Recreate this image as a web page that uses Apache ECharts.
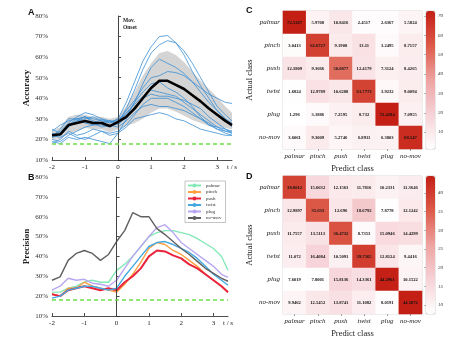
<!DOCTYPE html>
<html><head><meta charset="utf-8">
<script src="https://cdn.jsdelivr.net/npm/echarts@6/dist/echarts.min.js"></script>
<style>html,body{margin:0;padding:0;background:#fff}#c{width:474px;height:344px}</style>
</head><body><div id="c"></div>
<script>
// time axis (s) relative to movement onset
const T = [-2,-1.75,-1.5,-1.25,-1,-0.75,-0.5,-0.25,0,0.25,0.5,0.75,1,1.25,1.5,1.75,2,2.25,2.5,2.75,3,3.25,3.45];

// Panel A: decoding accuracy (%)
const accMean  = [22,22.5,27,28,29,28,28,26.5,28.5,31,35,40,45,48.5,48.5,46.5,44.5,41.5,38.5,35,32,29,27];
const accUpper = [24,26,31,32,32,31,31,30,31,36,43,51,57,62,63,61,57.5,53,48.5,44.5,40.5,36,33];
const accLower = [20,20,23,24,25.5,25,25,23.5,25,26.5,28,30,33,35,35,33.5,31.5,29.5,28,26.5,26,25.5,25];
const subjectAcc = [
  [25,23,27,30,31,30,29,28,30,38,48,58,65,70,70.5,67,61,53,46,40,34,30,28],
  [23,22,26,29,30,31,29,29,28,35,44,54,62,66,68,67,63,57,50,43,36,32,29],
  [22,24,28,31,33,32,30,29,27,31,38,47,55,59,57,55,52,48,43,38,34,30,26],
  [21,25,30,30,31,29,28,29,29,34,39,45,50,51,53,52.5,51,48,45,42,40,38,37.5],
  [24,27,29,30,28,27,30,28,30,32,38,43,47,48,45,43,40,36,31,27,25,24,23],
  [20,19,22,24,26,27,27,26,28,33,37,41,44,43,42,41,38,35,32,29,26,24,24],
  [18,20,24,22,23,25,24,22,23,30,36,40,42,41,41,40,39,37,35,31,28,25,23],
  [22,21,23,21,20,22,24,23,24,27,32,37,40,40,40,38,36,33,30,28,25,23,22],
  [19,18,21,20,21,20,19,18,23,26,30,31,32,33,32,30,29,27,25,24,23,22,22],
  [21,22,27,29,31,28,26,27,26,29,33,36,37,36,36,35,34,32,30,27,26,25,24]
];
const chanceLevel = 18;

// Panel B: precision per class (%)
const classes = ['palmar','pinch','push','twist','plug','no-mov'];
const precPalmar = [22,22,24,25,27,28,27,27,33,36,40,45,50,52,53,53,52,51,49,46.5,44,40,33];
const precPinch  = [21,20,24,24,27,25,24,23,22,26,31,37,44,47,46,43,41,38,35,31,28,25,22];
const precPush   = [21,20,23,24,25,24,23,24,23,27,30,34,40,43,42.5,40.5,39,36,34,31,28,25,22];
const precTwist  = [19,20,23,24,25,25,24,23,24,30,35,40,45,47,47.5,46,44,42,39,35,31,28,25.5];
const precPlug   = [23,25,29,28,28.5,26.5,26,25,28,34,40,45,50,54.5,56,52,47,44,41,38,35,31,29.5];
const precNoMov  = [28,29.7,38,41.5,43,41.5,38,41,47.5,53,62,60,60,54,51,47.5,44,41,37.5,34,31.5,29,27.5];

// Panel C / D: confusion matrices (rows: actual, cols: predicted), %
const confC = [
  [72.5267,5.9708,10.8416,2.4517,2.6367,5.5824],
  [3.0413,62.6727,9.1908,13.11,3.2495,8.7157],
  [12.3809,9.3666,50.0877,12.4179,7.3124,8.4265],
  [1.6824,12.9789,10.6288,61.7773,3.9232,9.0094],
  [1.296,3.1886,7.2595,8.732,72.4284,7.0955],
  [3.6061,9.3009,5.2746,6.8911,6.3803,68.547]
];
const confD = [
  [38.8012,15.6632,12.1563,11.7816,10.2331,11.3646],
  [12.9897,35.633,12.696,18.6792,7.8778,12.1242],
  [11.7557,13.5113,36.4732,8.7353,15.0946,14.4299],
  [11.072,16.4084,10.5091,39.7565,12.8124,9.4416],
  [7.6019,7.8001,15.8136,14.3361,44.2961,10.1522],
  [9.9462,12.5452,13.8741,11.1082,8.0191,44.5072]
];
const ticksC = [10,20,30,40,50,60,70];
const ticksD = [10,15,20,25,30,35,40];

const SERIF = 'Liberation Serif';
const pts = arr => arr.map((v, i) => [T[i], v]);
const cells = m => { const out = []; m.forEach((row, i) => row.forEach((v, j) => out.push([j, i, v]))); return out; };
const flat = m => m.reduce((a, r) => a.concat(r), []);

function timeAxis(gi) {
  return {
    type: 'value', gridIndex: gi, min: -2, max: 3.45,
    axisLine: { lineStyle: { color: '#222', width: 0.8 } },
    axisTick: { inside: true, length: 3, customValues: [-2,-1,0,1,2,3], lineStyle: { color: '#222', width: 0.8 } },
    axisLabel: { customValues: [-2,-1,0,1,2,3,3.45], formatter: v => v > 3.2 ? 't / s' : String(v),
      fontFamily: SERIF, fontSize: 7, color: '#222', margin: 4 },
    splitLine: { show: false }
  };
}
function pctAxis(gi, name) {
  return {
    type: 'value', gridIndex: gi, min: 10, max: 80, interval: 10,
    name: name, nameLocation: 'middle', nameGap: 17,
    nameTextStyle: { fontFamily: SERIF, fontSize: 9, color: '#222', fontWeight: 'bold' },
    axisLine: { show: true, lineStyle: { color: '#222', width: 0.8 } },
    axisTick: { show: true, inside: true, length: 3, lineStyle: { color: '#222', width: 0.8 } },
    axisLabel: { formatter: '{value}%', fontFamily: SERIF, fontSize: 7, color: '#333', margin: 4 },
    splitLine: { show: false }
  };
}
function catX(gi) {
  return {
    type: 'category', gridIndex: gi, data: classes,
    name: 'Predict class', nameLocation: 'middle', nameGap: 15,
    nameTextStyle: { fontFamily: SERIF, fontSize: 8.5, color: '#222' },
    axisLine: { show: false }, axisTick: { show: true, alignWithLabel: true, interval: 0, length: 2, lineStyle: { color: '#999' } },
    axisLabel: { interval: 0, fontFamily: SERIF, fontStyle: 'italic', fontSize: 7, color: '#222', margin: 4 },
    splitArea: { show: false }
  };
}
function catY(gi) {
  return {
    type: 'category', gridIndex: gi, data: classes, inverse: true,
    name: 'Actual class', nameLocation: 'middle', nameGap: 29,
    nameTextStyle: { fontFamily: SERIF, fontSize: 8.5, color: '#222' },
    axisLine: { show: false }, axisTick: { show: false },
    axisLabel: { interval: 0, fontFamily: SERIF, fontStyle: 'italic', fontSize: 7, color: '#222', margin: 3 },
    splitArea: { show: false }
  };
}
function barAxisY(gi, mn, mx, ticks) {
  return {
    type: 'value', gridIndex: gi, min: mn, max: mx, position: 'right',
    axisLine: { show: false },
    axisTick: { show: true, inside: true, length: 2, customValues: ticks, lineStyle: { color: '#888', width: 0.6 } },
    axisLabel: { customValues: ticks, fontFamily: SERIF, fontStyle: 'italic', fontSize: 5, color: '#333', margin: 3 },
    splitLine: { show: false }
  };
}
function heat(gi, m) {
  return {
    type: 'heatmap', xAxisIndex: gi, yAxisIndex: gi, data: cells(m),
    label: { show: true, fontFamily: SERIF, fontWeight: 'bold', fontSize: 4.6, color: '#111',
      formatter: p => String(p.value[2]) },
    itemStyle: { borderWidth: 0 },
    emphasis: { disabled: true }
  };
}

const allC = flat(confC), allD = flat(confD);
const minC = Math.min(...allC), maxC = Math.max(...allC);
const minD = Math.min(...allD), maxD = Math.max(...allD);
const heatColors = ['#ffffff', '#f6d2d7', '#eea3a2', '#dd5a48', '#c41f14'];

const series = [];
// gray spread band in panel A, drawn as one polygon (upper edge forward, lower edge back)
series.push({
  type: 'custom', xAxisIndex: 0, yAxisIndex: 0, silent: true, z: 1,
  data: T.map((t, i) => [t, accLower[i], accUpper[i]]),
  encode: { x: 0, y: [1, 2] },
  renderItem: (params, api) => {
    if (params.dataIndex !== 0) return null;
    const poly = [];
    for (let i = 0; i < T.length; i++) poly.push(api.coord([T[i], accUpper[i]]));
    for (let i = T.length - 1; i >= 0; i--) poly.push(api.coord([T[i], accLower[i]]));
    return { type: 'polygon', shape: { points: poly }, style: { fill: '#d4d4d4' } };
  }
});
// individual subjects
subjectAcc.forEach(s => series.push({ type: 'line', xAxisIndex: 0, yAxisIndex: 0, data: pts(s),
  symbol: 'none', lineStyle: { color: '#3b8fd4', width: 0.8 }, silent: true, z: 2 }));
// mean accuracy, onset marker and chance level
series.push({ type: 'line', xAxisIndex: 0, yAxisIndex: 0, data: pts(accMean), symbol: 'none',
  lineStyle: { color: '#000', width: 2.6 }, z: 5,
  markLine: { silent: true, symbol: 'none', label: { show: false },
    data: [
      { xAxis: 0, lineStyle: { color: '#444', width: 1, type: 'solid' } },
      { yAxis: chanceLevel, lineStyle: { color: '#6ee048', width: 1.6, type: [4, 3] } }
    ] } });

// Panel B class-wise precision
const precSets = [precPalmar, precPinch, precPush, precTwist, precPlug, precNoMov];
const precColors = ['#84e8b8', '#ffa040', '#e8243c', '#45a8e0', '#b9a6f2', '#606060'];
precSets.forEach((d, k) => series.push({ type: 'line', name: classes[k], xAxisIndex: 1, yAxisIndex: 1,
  data: pts(d), symbol: 'none', lineStyle: { color: precColors[k], width: k === 2 ? 2 : 1.4 },
  itemStyle: { color: precColors[k] }, silent: true }));
series.push({ type: 'line', xAxisIndex: 1, yAxisIndex: 1, data: [], symbol: 'none',
  markLine: { silent: true, symbol: 'none', label: { show: false },
    data: [
      { xAxis: 0, lineStyle: { color: '#444', width: 1, type: 'solid' } },
      { yAxis: chanceLevel, lineStyle: { color: '#6ee048', width: 1.6, type: [4, 3] } }
    ] } });

// Panels C and D
series.push(heat(2, confC));
series.push(heat(3, confD));
const heatIdxC = series.length - 2, heatIdxD = series.length - 1;

const option = {
  animation: false,
  backgroundColor: '#fff',
  grid: [
    { left: 52, top: 16, width: 180, height: 144 },
    { left: 52, top: 177, width: 176, height: 139 },
    { left: 283, top: 11, width: 139, height: 138, show: true, borderColor: '#c8c8c8', borderWidth: 0.8, backgroundColor: 'transparent' },
    { left: 283, top: 176, width: 139, height: 138, show: true, borderColor: '#c8c8c8', borderWidth: 0.8, backgroundColor: 'transparent' },
    { left: 426, top: 11, width: 9, height: 138, show: true, borderColor: '#bbb', borderWidth: 0.6, backgroundColor: 'transparent' },
    { left: 426, top: 176, width: 9, height: 138, show: true, borderColor: '#bbb', borderWidth: 0.6, backgroundColor: 'transparent' }
  ],
  xAxis: [timeAxis(0), timeAxis(1), catX(2), catX(3),
    { type: 'value', gridIndex: 4, show: false, min: 0, max: 1 },
    { type: 'value', gridIndex: 5, show: false, min: 0, max: 1 }],
  yAxis: [pctAxis(0, 'Accuracy'), pctAxis(1, 'Precision'), catY(2), catY(3),
    barAxisY(4, minC, maxC, ticksC), barAxisY(5, minD, maxD, ticksD)],
  visualMap: [
    { type: 'continuous', seriesIndex: heatIdxC, min: minC, max: maxC, calculable: false,
      left: 426, top: 11, itemWidth: 9, itemHeight: 138, padding: 0, text: null, showLabel: false,
      inRange: { color: heatColors } },
    { type: 'continuous', seriesIndex: heatIdxD, min: minD, max: maxD, calculable: false,
      left: 426, top: 176, itemWidth: 9, itemHeight: 138, padding: 0, text: null, showLabel: false,
      inRange: { color: heatColors } }
  ],
  legend: {
    data: classes, orient: 'vertical', left: 185, top: 181,
    itemWidth: 13, itemHeight: 5, itemGap: 1.5,
    textStyle: { fontFamily: SERIF, fontSize: 5, color: '#333' },
    backgroundColor: '#fff', borderColor: '#aaa', borderWidth: 0.7, padding: [2, 4, 2, 2],
    selectedMode: false
  },
  graphic: [
    { type: 'text', left: 28, top: 8, style: { text: 'A', font: 'bold 9px Liberation Sans', fill: '#111' } },
    { type: 'text', left: 28, top: 173, style: { text: 'B', font: 'bold 9px Liberation Sans', fill: '#111' } },
    { type: 'text', left: 246, top: 6, style: { text: 'C', font: 'bold 9px Liberation Sans', fill: '#111' } },
    { type: 'text', left: 246, top: 172, style: { text: 'D', font: 'bold 9px Liberation Sans', fill: '#111' } },
    { type: 'text', left: 123, top: 17, style: { text: 'Mov.\nOnset', font: 'bold 5.5px Liberation Serif', lineHeight: 7, fill: '#222' } }
  ],
  series: series
};
echarts.init(document.getElementById('c'), null, { renderer: 'canvas' }).setOption(option);
</script>
</body></html>
